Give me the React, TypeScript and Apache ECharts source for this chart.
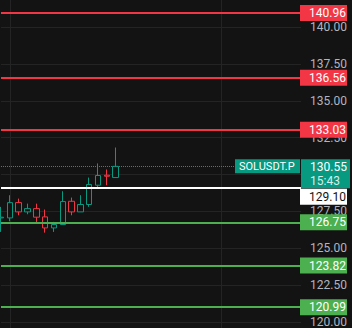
import React, { useEffect, useRef } from 'react';
import * as echarts from 'echarts';

// ---- data ----
const slotCount = 35;
const categories: string[] = Array.from({ length: slotCount }, (_, i) => String(i));
const opens = [127.05, 127.05, 128.09, 127.46, 127.68, 127.12, 126.37, 126.6, 128.18, 127.46, 127.96, 129.27, 129.95, 129.79];
const closes = [127.1, 128.09, 127.46, 127.68, 127.1, 126.37, 126.6, 128.16, 127.46, 127.96, 129.32, 129.93, 129.88, 130.55];
const lows = [126.1, 126.82, 127.23, 127.3, 126.73, 126.05, 126.1, 126.6, 127.23, 127.46, 127.8, 129.05, 129.27, 129.79];
const highs = [127.8, 128.59, 128.36, 128.02, 128.02, 127.62, 126.78, 128.86, 128.43, 128.59, 129.79, 130.75, 130.34, 131.83];

const redLevels = [140.96, 136.56, 133.03];
const greenLevels = [126.75, 123.82, 120.99];
const markPrice = 129.1;
const lastPrice = 130.55;
const lastTime = '15:43';
const symbolName = 'SOLUSDT.P';

const yMin = 117.5;
const yMax = 142.5;
const yInterval = 2.5;
const timeGridIdx = [1, 25];

const BG = '#131313';
const UP = '#089981';
const DOWN = '#f23645';
const GREEN = '#4caf50';
const FONT = 'Roboto, "Noto Sans", sans-serif';

// inner canvas is taller than the viewport so that the visible band is 119.5..141.9
const SHIFT = 20;
const INNER_H = 388;

export default function App() {
  const ref = useRef<HTMLDivElement>(null);
  useEffect(() => {
    const el = ref.current!;
    const chart = echarts.init(el, null, { renderer: 'svg' });
    const candleData = categories.map((_, i) =>
      i < opens.length ? [opens[i], closes[i], lows[i], highs[i]] : '-'
    );
    const markData: any[] = [
      ...redLevels.map((v) => ({ yAxis: v, lineStyle: { color: DOWN, width: 2, type: 'solid' } })),
      ...greenLevels.map((v) => ({ yAxis: v, lineStyle: { color: GREEN, width: 2, type: 'solid' } })),
      { yAxis: markPrice, lineStyle: { color: '#ffffff', width: 2, type: 'solid' } },
      { yAxis: lastPrice, lineStyle: { color: UP, width: 1, type: [1, 1] } },
    ];
    chart.setOption({
      animation: false,
      backgroundColor: BG,
      grid: { left: 1, right: 51, top: 10.325, bottom: 9.4 },
      xAxis: {
        type: 'category',
        data: categories,
        boundaryGap: false,
        axisLine: { show: false },
        axisTick: { show: false },
        axisLabel: { show: false },
        splitLine: {
          show: true,
          interval: (i: number) => timeGridIdx.includes(i),
          lineStyle: { color: '#242424', width: 1 },
        },
      },
      yAxis: {
        type: 'value',
        position: 'right',
        min: yMin,
        max: yMax,
        interval: yInterval,
        axisLine: { show: false },
        axisTick: { show: false },
        axisLabel: {
          color: '#b2b5be',
          fontSize: 12,
          fontFamily: FONT,
          margin: 9,
          formatter: (v: number) => v.toFixed(2),
        },
        splitLine: { show: true, lineStyle: { color: '#242424', width: 1 } },
      },
      series: [
        {
          type: 'candlestick',
          data: candleData,
          barWidth: 6,
          clip: true,
          itemStyle: {
            color: BG,
            color0: BG,
            borderColor: UP,
            borderColor0: DOWN,
            borderWidth: 1,
          },
          markLine: {
            symbol: 'none',
            silent: true,
            animation: false,
            label: { show: false },
            emphasis: { disabled: true },
            data: markData,
          },
        },
      ],
    });

    const yOf = (v: number) => chart.convertToPixel({ yAxisIndex: 0 }, v) as unknown as number;
    const graphics: any[] = [];
    const box = (x: number, y: number, w: number, h: number, fill: string, text: string, color: string, tx: number, fs = 12) => {
      graphics.push({ type: 'rect', z: 100, shape: { x, y, width: w, height: h }, style: { fill } });
      graphics.push({
        type: 'text', z: 101, x: tx, y: y + h / 2,
        style: { text, fill: color, font: `${fs}px ${FONT}`, align: 'left', verticalAlign: 'middle' },
      });
    };
    redLevels.forEach((v) => box(300, yOf(v) - 8, 47, 16, DOWN, v.toFixed(2), '#ffffff', 309));
    greenLevels.forEach((v) => box(300, yOf(v) - 8, 47, 16, GREEN, v.toFixed(2), '#ffffff', 309));
    // last price
    const ly = yOf(lastPrice);
    const lastTop = ly - 7;
    const lastH = 29;
    graphics.push({ type: 'rect', z: 100, shape: { x: 301, y: lastTop, width: 49, height: lastH }, style: { fill: UP } });
    graphics.push({
      type: 'text', z: 101, x: 310, y: lastTop + 7.5,
      style: { text: lastPrice.toFixed(2), fill: '#ffffff', font: `12px ${FONT}`, align: 'left', verticalAlign: 'middle' },
    });
    graphics.push({
      type: 'text', z: 101, x: 310, y: lastTop + 21.5,
      style: { text: lastTime, fill: '#d4efe9', font: `12px ${FONT}`, align: 'left', verticalAlign: 'middle' },
    });
    box(235, ly - 7, 65, 14, UP, symbolName, '#ffffff', 239, 11);
    // mark price, pushed below last price box
    const my = Math.max(yOf(markPrice) - 8, lastTop + lastH + 0.5);
    box(300, my, 47, 16, '#ffffff', markPrice.toFixed(2), '#131313', 309);

    chart.setOption({ graphic: graphics });
    return () => chart.dispose();
  }, []);
  return (
    <div style={{ position: 'fixed', left: 0, top: 0, width: 352, height: 328, overflow: 'hidden', background: BG }}>
      <div
        ref={ref}
        style={{ position: 'absolute', left: 0, top: -SHIFT, width: 352, height: INNER_H }}
      />
    </div>
  );
}
